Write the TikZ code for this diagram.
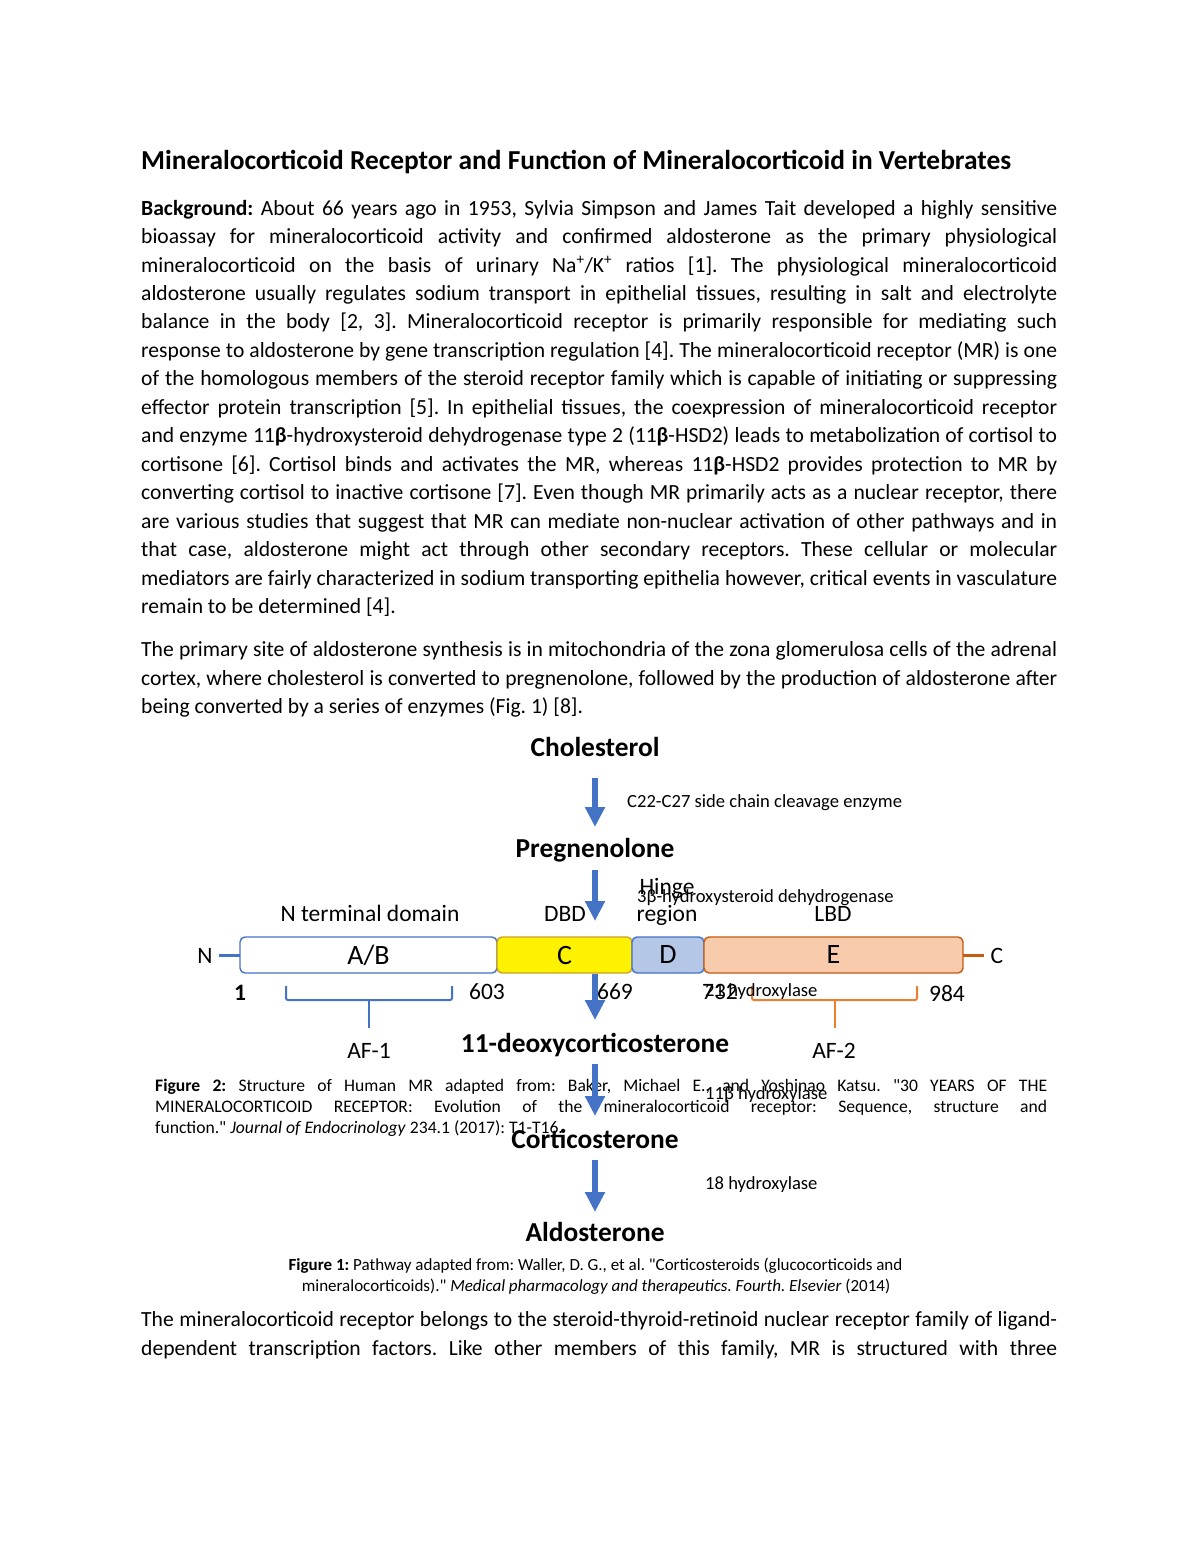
\documentclass[tikz,border=0pt]{standalone}
\usepackage{fontspec}
\setmainfont{Carlito}[Ligatures=TeXOff]
\usetikzlibrary{arrows.meta}
\frenchspacing
\definecolor{mblue}{HTML}{4472C4}
\definecolor{morange}{HTML}{ED7D31}
\definecolor{dorange}{HTML}{C55A11}
\definecolor{peach}{HTML}{F8CBAD}
\definecolor{lblue}{HTML}{B4C7E7}
\definecolor{cborder}{HTML}{C9A227}
\newcommand\jl[1]{\makebox[916pt][s]{#1}}
\newcommand\jcap[1]{\makebox[892pt][s]{#1}}
\tikzset{
  body/.style={anchor=base west, inner sep=0pt, font=\fontsize{21.6}{28.5}\selectfont},
  chem/.style={anchor=base, inner sep=0pt, font=\fontsize{27.4}{33}\selectfont\bfseries},
  enz/.style={anchor=base west, inner sep=0pt, font=\fontsize{18.6}{22}\selectfont},
  pathway/.style={-{Triangle[width=19pt,length=20pt]}, line width=6.5pt, mblue},
  seg/.style={rounded corners=5pt, line width=1.4pt, minimum height=36pt, inner sep=0pt, outer sep=0pt, font=\fontsize{28}{30}\selectfont},
  mrlab/.style={anchor=base, inner sep=0pt, font=\fontsize{23.5}{28}\selectfont},
  figcap/.style={anchor=base west, inner sep=0pt, font=\fontsize{17.6}{21}\selectfont},
}
\begin{document}
\begin{tikzpicture}[x=1pt,y=-1pt]
\fill[white] (0,0) rectangle (1200,1553);
\useasboundingbox (0,0) rectangle (1200,1553);

% title
\node[anchor=base west, inner sep=0pt, font=\fontsize{27.4}{33}\selectfont\bfseries] (title) at (141,169) {Mineralocorticoid Receptor and Function of Mineralocorticoid in Vertebrates};

% paragraph 1
\node[body] (p1) at (141,215) {\jl{\textbf{Background:} About 66 years ago in 1953, Sylvia Simpson and James Tait developed a highly sensitive}};
\node[body] (p2) at (141,243.5) {\jl{bioassay for mineralocorticoid activity and confirmed aldosterone as the primary physiological}};
\node[body] (p3) at (141,272) {\jl{mineralocorticoid on the basis of urinary Na\textsuperscript{+}/K\textsuperscript{+} ratios [1]. The physiological mineralocorticoid}};
\node[body] (p4) at (141,300.5) {\jl{aldosterone usually regulates sodium transport in epithelial tissues, resulting in salt and electrolyte}};
\node[body] (p5) at (141,328.5) {\jl{balance in the body [2, 3]. Mineralocorticoid receptor is primarily responsible for mediating such}};
\node[body] (p6) at (141,357) {\jl{response to aldosterone by gene transcription regulation [4]. The mineralocorticoid receptor (MR) is one}};
\node[body] (p7) at (141,385.5) {\jl{of the homologous members of the steroid receptor family which is capable of initiating or suppressing}};
\node[body] (p8) at (141,414) {\jl{effector protein transcription [5]. In epithelial tissues, the coexpression of mineralocorticoid receptor}};
\node[body] (p9) at (141,442.5) {\jl{and enzyme 11\textbf{β}-hydroxysteroid dehydrogenase type 2 (11\textbf{β}-HSD2) leads to metabolization of cortisol to}};
\node[body] (p10) at (141,471) {\jl{cortisone [6]. Cortisol binds and activates the MR, whereas 11\textbf{β}-HSD2 provides protection to MR by}};
\node[body] (p11) at (141,499.5) {\jl{converting cortisol to inactive cortisone [7]. Even though MR primarily acts as a nuclear receptor, there}};
\node[body] (p12) at (141,528) {\jl{are various studies that suggest that MR can mediate non-nuclear activation of other pathways and in}};
\node[body] (p13) at (141,556.5) {\jl{that case, aldosterone might act through other secondary receptors. These cellular or molecular}};
\node[body] (p14) at (141,585) {\jl{mediators are fairly characterized in sodium transporting epithelia however, critical events in vasculature}};
\node[body] (p15) at (141,613.5) {remain to be determined [4].};

% paragraph 2
\node[body] (q1) at (141,656.5) {\jl{The primary site of aldosterone synthesis is in mitochondria of the zona glomerulosa cells of the adrenal}};
\node[body] (q2) at (141,685) {\jl{cortex, where cholesterol is converted to pregnenolone, followed by the production of aldosterone after}};
\node[body] (q3) at (141,713.5) {being converted by a series of enzymes (Fig. 1) [8].};

% ===== MR structure (Figure 2) =====
\node[mrlab] (ntd) at (370,921) {N terminal domain};
\node[mrlab] (dbd) at (565,921) {DBD};
\node[mrlab] (hinge) at (667,894) {Hinge};
\node[mrlab] (region) at (667,921) {region};
\node[mrlab] (lbd) at (833,921) {LBD};

\node[seg, draw=mblue, fill=white, minimum width=257pt] (ab) at (368.5,955) {A/B};
\node[seg, draw=cborder, fill=yellow, minimum width=135pt] (c) at (564.5,955) {C};
\node[seg, draw=mblue, fill=lblue, minimum width=72pt] (d) at (668,955) {D};
\node[seg, draw=dorange, fill=peach, minimum width=259pt] (e) at (833.5,955) {E};

\node[anchor=base, inner sep=0pt, font=\fontsize{23.5}{28}\selectfont] (nlab) at (205,963) {N};
\node[anchor=base, inner sep=0pt, font=\fontsize{23.5}{28}\selectfont] (clab) at (997,963) {C};
\coordinate (nend) at (219,955);
\coordinate (cend) at (984,955);
\draw[mblue, line width=3pt] (nend) -- (ab.west);
\draw[dorange, line width=3pt] (e.east) -- (cend);

\node[mrlab, font=\fontsize{23.5}{28}\selectfont\bfseries] (n1) at (240,1000) {1};
\node[mrlab] (n603) at (487,999) {603};
\node[mrlab] (n669) at (615,999) {669};
\node[mrlab] (n732) at (720,999) {732};
\node[mrlab] (n984) at (947,1001) {984};

% AF-1 bracket
\coordinate (b1l) at (286,986);
\coordinate (b1r) at (452,986);
\coordinate (b1m) at (369,1000);
\coordinate (b1s) at (369,1028);
\draw[mblue, line width=2pt, rounded corners=2pt] (b1l) -- (286,1000) -- (452,1000) -- (b1r);
\draw[mblue, line width=2pt] (b1m) -- (b1s);
\node[mrlab] (af1) at (369,1058) {AF-1};

% AF-2 bracket
\coordinate (b2l) at (752,986);
\coordinate (b2r) at (917,986);
\coordinate (b2m) at (835,1000);
\coordinate (b2s) at (835,1028);
\draw[morange, line width=2pt, rounded corners=2pt] (b2l) -- (752,1000) -- (917,1000) -- (b2r);
\draw[morange, line width=2pt] (b2m) -- (b2s);
\node[mrlab] (af2) at (834,1058) {AF-2};

% Figure 2 caption
\node[figcap] (f2a) at (155,1091) {\jcap{\textbf{Figure 2:} Structure of Human MR adapted from: Baker, Michael E., and Yoshinao Katsu. "30 YEARS OF THE}};
\node[figcap] (f2b) at (155,1112) {\jcap{MINERALOCORTICOID RECEPTOR: Evolution of the mineralocorticoid receptor: Sequence, structure and}};
\node[figcap] (f2c) at (155,1133) {function." \textit{Journal of Endocrinology} 234.1 (2017): T1-T16.};

% ===== Pathway (Figure 1) =====
\node[chem] (chol) at (595,756) {Cholesterol};
\node[chem] (preg) at (595,857) {Pregnenolone};
\node[chem] (doc) at (595,1052) {11-deoxycorticosterone};
\node[chem] (cort) at (595,1148) {Corticosterone};
\node[chem] (aldo) at (595,1241) {Aldosterone};

\coordinate (a1s) at (595,778); \coordinate (a1e) at (595,827);
\coordinate (a2s) at (595,870); \coordinate (a2e) at (595,921);
\coordinate (a3s) at (595,973.5); \coordinate (a3e) at (595,1020);
\coordinate (a4s) at (595,1064); \coordinate (a4e) at (595,1116);
\coordinate (a5s) at (595,1160); \coordinate (a5e) at (595,1212);
\draw[pathway] (a1s) -- (a1e);
\draw[pathway] (a2s) -- (a2e);
\draw[pathway] (a3s) -- (a3e);
\draw[pathway] (a4s) -- (a4e);
\draw[pathway] (a5s) -- (a5e);

\node[enz] (e1) at (627,807) {C22-C27 side chain cleavage enzyme};
\node[enz] (e2) at (637,902) {3β-hydroxysteroid dehydrogenase};
\node[enz] (e3) at (705,996) {21 hydroxylase};
\node[enz] (e4) at (705,1099) {11β hydroxylase};
\node[enz] (e5) at (705,1189) {18 hydroxylase};

% Figure 1 caption
\node[anchor=base, inner sep=0pt, font=\fontsize{17}{21}\selectfont] (f1a) at (595.5,1270) {\textbf{Figure 1:} Pathway adapted from: Waller, D. G., et al. "Corticosteroids (glucocorticoids and};
\node[anchor=base, inner sep=0pt, font=\fontsize{17}{21}\selectfont] (f1b) at (596,1291) {mineralocorticoids)." \textit{Medical pharmacology and therapeutics. Fourth. Elsevier} (2014)};

% final paragraph
\node[body] (r1) at (141,1326) {\jl{The mineralocorticoid receptor belongs to the steroid-thyroid-retinoid nuclear receptor family of ligand-}};
\node[body] (r2) at (141,1355) {\jl{dependent transcription factors. Like other members of this family, MR is structured with three}};
\end{tikzpicture}
\end{document}
